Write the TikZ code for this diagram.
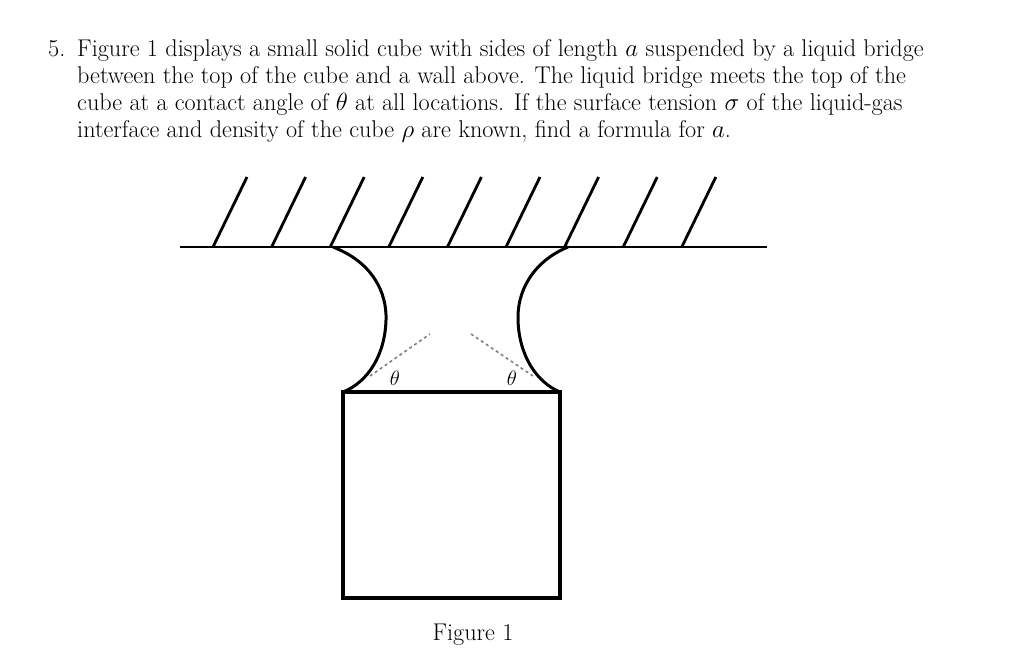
\documentclass[tikz,border=0pt]{standalone}
\begin{document}
\begin{tikzpicture}[x=1pt,y=-1pt,
  txt/.style={anchor=base west,inner sep=0pt,font=\fontsize{24.2}{27}\selectfont},
  thick line/.style={line width=3.6pt},
  hatch/.style={line width=2.8pt},
  dsh/.style={dashed,gray,line width=1.6pt}]
\useasboundingbox (0,0) rectangle (1024,667);
\node[txt] (n5) at (48,56) {5.};
\node[txt] (l1) at (77,56) {Figure 1 displays a small solid cube with sides of length $a$ suspended by a liquid bridge};
\node[txt] (l2) at (77,83) {between the top of the cube and a wall above. The liquid bridge meets the top of the};
\node[txt] (l3) at (77,110) {cube at a contact angle of $\theta$ at all locations. If the surface tension $\sigma$ of the liquid-gas};
\node[txt] (l4) at (77,137) {interface and density of the cube $\rho$ are known, find a formula for $a$.};
\draw[hatch] (180,247) -- (767,247);
\foreach \i in {0,...,8}{
  \draw[hatch] ({213+58.6*\i},247) -- ({247+58.6*\i},177);
}
\draw[thick line] (343,392) rectangle (560,598);
\draw[line width=3pt] (333,247) .. controls (372,262) and (387,292) .. (386,320)
  .. controls (385,355) and (368,382) .. (343,392);
\draw[line width=3pt] (568,247) .. controls (532,262) and (517,292) .. (518,320)
  .. controls (519,355) and (536,382) .. (560,392);
\draw[dsh] (370,376) -- (430,334);
\draw[dsh] (471,334) -- (533,376);
\node[font=\fontsize{20}{20}\selectfont] (t1) at (395,378) {$\theta$};
\node[font=\fontsize{20}{20}\selectfont] (t2) at (512,378) {$\theta$};
\node[txt,anchor=base] (fig) at (473,640) {Figure 1};
\end{tikzpicture}
\end{document}
